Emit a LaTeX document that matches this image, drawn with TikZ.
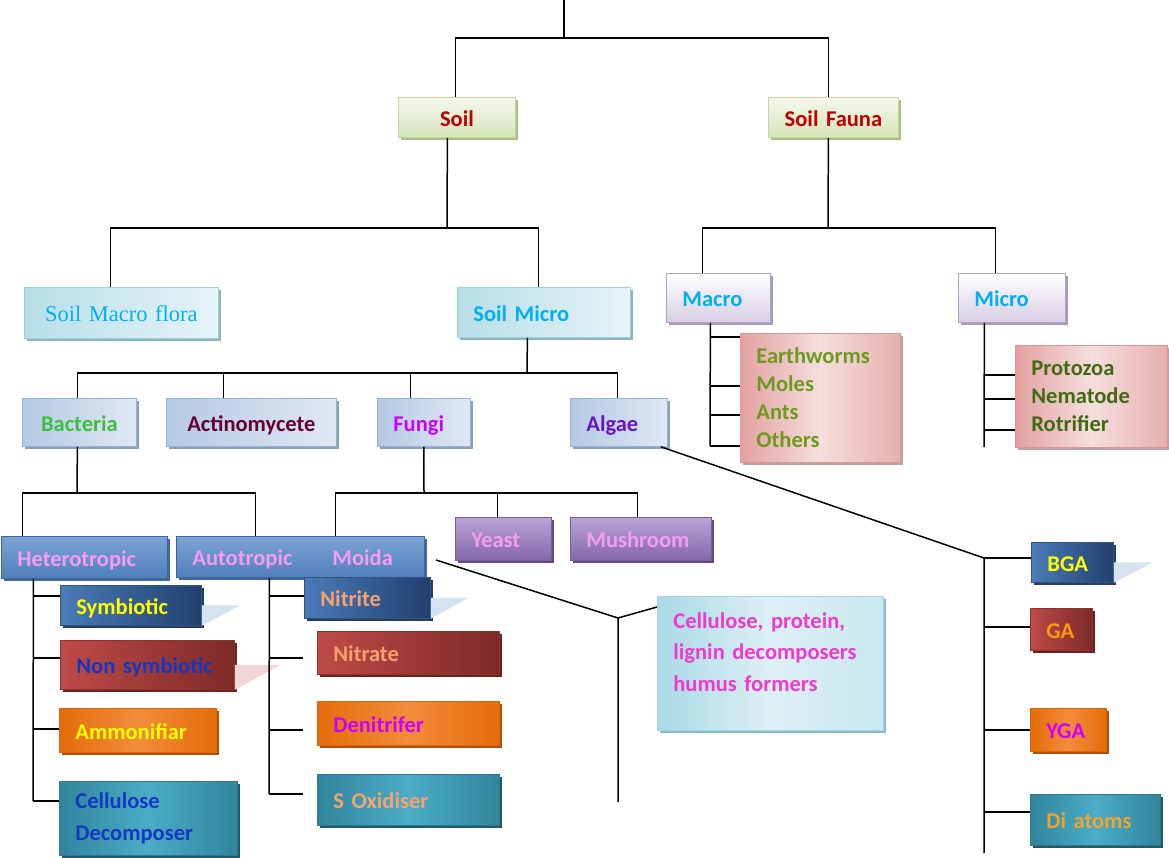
\documentclass[tikz,border=0pt]{standalone}
\usepackage{fontspec}
\setmainfont{Carlito}
\newfontfamily\tnr{Liberation Serif}
\usetikzlibrary{shadows}
\definecolor{soilred}{HTML}{C00000}
\definecolor{sky}{HTML}{00B0F0}
\definecolor{bactg}{HTML}{3DBE3D}
\definecolor{actc}{HTML}{660033}
\definecolor{mag}{HTML}{CC00FF}
\definecolor{algc}{HTML}{6A14C8}
\definecolor{pinkt}{HTML}{F59BF2}
\definecolor{yel}{HTML}{FFFF00}
\definecolor{bluet}{HTML}{1238C4}
\definecolor{salm}{HTML}{F7A26E}
\definecolor{oranget}{HTML}{FF9A0A}
\definecolor{diatc}{HTML}{F2A22C}
\definecolor{celt}{HTML}{EE3ACF}
\definecolor{olive}{HTML}{6B9A1C}
\definecolor{dgreen}{HTML}{3F6B12}
% box colours
\definecolor{gA}{HTML}{F4F8EC}\definecolor{gB}{HTML}{D6E4BC}\definecolor{gC}{HTML}{C3D69B}\definecolor{gD}{HTML}{AABE82}
\definecolor{cA}{HTML}{B7DEE8}\definecolor{cB}{HTML}{E6F4F8}\definecolor{cC}{HTML}{A0D0DE}\definecolor{cD}{HTML}{8CB4C0}
\definecolor{lA}{HTML}{FFFFFF}\definecolor{lB}{HTML}{D7CEE4}\definecolor{lC}{HTML}{B3A2C7}\definecolor{lD}{HTML}{A59BB4}
\definecolor{bA}{HTML}{B4C9E4}\definecolor{bB}{HTML}{E0E8F4}\definecolor{bC}{HTML}{95B3D7}\definecolor{bD}{HTML}{8CA0BE}
\definecolor{dA}{HTML}{7DA3D3}\definecolor{dB}{HTML}{4F7FBA}\definecolor{dC}{HTML}{3C679E}\definecolor{dD}{HTML}{46699B}
\definecolor{nA}{HTML}{4A7CB8}\definecolor{nB}{HTML}{22406E}\definecolor{nC}{HTML}{325587}\definecolor{nD}{HTML}{283C5F}
\definecolor{rA}{HTML}{BE4B48}\definecolor{rB}{HTML}{7D2A28}\definecolor{rC}{HTML}{8C3230}\definecolor{rD}{HTML}{6E2321}
\definecolor{oA}{HTML}{E46C0A}\definecolor{oM}{HTML}{F28C3C}\definecolor{oC}{HTML}{DC640A}\definecolor{oD}{HTML}{B45008}
\definecolor{tA}{HTML}{31859C}\definecolor{tM}{HTML}{4BACC6}\definecolor{tC}{HTML}{2D788C}\definecolor{tD}{HTML}{215968}
\definecolor{pA}{HTML}{B9A3D6}\definecolor{pB}{HTML}{8466A8}\definecolor{pC}{HTML}{7A5E9C}\definecolor{pD}{HTML}{644B82}
\definecolor{kA}{HTML}{E3A1A0}\definecolor{kM}{HTML}{F5DEDE}\definecolor{kB}{HTML}{E6AFAE}\definecolor{kC}{HTML}{D99694}\definecolor{kD}{HTML}{C3A0A0}
\definecolor{eA}{HTML}{A9D9E5}\definecolor{eM}{HTML}{DDF0F5}\definecolor{eB}{HTML}{C8E7EF}\definecolor{eC}{HTML}{A5D5E2}\definecolor{eD}{HTML}{8CB9C6}
\definecolor{rfb}{HTML}{D6E2F0}
\definecolor{rfr}{HTML}{F0D6D6}
\tikzset{
  base/.style={font=\fontsize{22.5}{28}\selectfont\bfseries},
  bx/.style={base, rectangle, anchor=north west, inner xsep=16pt, inner ysep=0pt, align=left, line width=0.8pt, text height=19pt, text depth=1.5pt},
  multi/.style={text height={}, text depth={}},
  wh/.code 2 args={\pgfmathsetmacro\tmpw{#1-32}\edef\tmpx{\noexpand\tikzset{text width=\tmpw pt,minimum height=#2pt}}\tmpx},
  shd/.style={drop shadow={shadow xshift=2.5pt,shadow yshift=-2.5pt,fill=#1,opacity=1}},
  greenbx/.style={top color=gA, bottom color=gB, draw=gC, shd=gD},
  cyanbx/.style={left color=cA, right color=cB, draw=cC, shd=cD},
  lavbx/.style={top color=lA, bottom color=lB, draw=lC, shd=lD},
  lbluebx/.style={left color=bA, right color=bB, draw=bC, shd=bD},
  bandbx/.style={top color=dA, bottom color=dB, draw=dC, shd=dD},
  navybx/.style={left color=nA, right color=nB, draw=nC, shd=nD},
  redbx/.style={left color=rA, right color=rB, draw=rC, shd=rD},
  orangebx/.style={left color=oA, right color=oA, middle color=oM, draw=oC, shd=oD},
  tealbx/.style={left color=tA, right color=tA, middle color=tM, draw=tC, shd=tD},
  purplebx/.style={top color=pA, bottom color=pB, draw=pC, shd=pD},
  pinkbx/.style={left color=kA, right color=kB, middle color=kM, draw=kC, shd=kD},
  celbx/.style={left color=eA, right color=eB, middle color=eM, draw=eC, shd=eD},
  reflb/.style={fill=rfb},
  reflr/.style={fill=rfr},
  conn/.style={line width=1.5pt, draw=black}
}
\begin{document}
\begin{tikzpicture}[x=1pt,y=-1pt]
\useasboundingbox (0,0) rectangle (1169,858);
% boxes
\node[bx,wh={117}{40},greenbx,align=center,text=soilred] (soil) at (398,97) {Soil};
\node[bx,wh={130}{40},greenbx,align=center,text=soilred] (fauna) at (768,97) {Soil Fauna};
\node[bx,wh={194}{51},cyanbx,align=center,text=sky,font=\fontsize{22.5}{28}\selectfont\tnr] (smf) at (24,287) {Soil Macro flora};
\node[bx,wh={173}{50},cyanbx,text=sky] (smicro) at (457,287) {Soil Micro};
\node[bx,wh={104}{49},lavbx,text=sky] (macro) at (666,273) {Macro};
\node[bx,wh={107}{49},lavbx,text=sky] (micro) at (958,273) {Micro};
\node[bx,multi,wh={160}{129},pinkbx,text=olive] (earth) at (740,333) {Earthworms\\Moles\\Ants\\Others};
\node[bx,multi,wh={152}{102},pinkbx,text=dgreen] (proto) at (1015,345) {Protozoa\\Nematode\\Rotrifier};
\node[bx,wh={114}{48},lbluebx,align=center,text=bactg] (bact) at (22,398) {Bacteria};
\node[bx,wh={170}{48},lbluebx,align=center,text=actc] (actin) at (166,398) {Actinomycete};
\node[bx,wh={93}{48},lbluebx,text=mag] (fungi) at (377,398) {Fungi};
\node[bx,wh={97}{48},lbluebx,text=algc] (algae) at (570,398) {Algae};
\node[bx,wh={166}{42},bandbx,text=pinkt] (hetero) at (1,536) {Heterotropic};
\node[bx,wh={248}{41},bandbx,text=pinkt] (auto) at (176,536) {Autotropic\hspace{40pt}Moida};
\node[bx,wh={96}{43},purplebx,text=pinkt] (yeast) at (455,517) {Yeast};
\node[bx,wh={141}{43},purplebx,text=pinkt] (mush) at (570,517) {Mushroom};
\node[bx,wh={141}{40},navybx,text=yel] (symb) at (60,585) {Symbiotic};
\node[bx,wh={174}{49},redbx,text=bluet] (nonsym) at (60,640) {Non symbiotic};
\node[bx,wh={157}{44},orangebx,text=yel] (ammon) at (59,708) {Ammonifiar};
\node[bx,multi,wh={178}{74},tealbx,text=bluet,font=\fontsize{22.5}{32}\selectfont\bfseries] (celd) at (59,781) {Cellulose\\Decomposer};
\node[bx,wh={126}{41},navybx,text=salm] (nitrite) at (304,577) {Nitrite};
\node[bx,wh={182}{43},redbx,text=salm] (nitrate) at (317,631) {Nitrate};
\node[bx,wh={182}{44},orangebx,text=mag] (denit) at (317,701) {Denitrifer};
\node[bx,wh={182}{51},tealbx,text=salm] (sox) at (317,774) {S Oxidiser};
\node[bx,multi,wh={226}{134},celbx,text=celt,font=\fontsize{22.5}{31.5}\selectfont\bfseries] (cel) at (657,596) {Cellulose, protein,\\lignin decomposers\\humus formers\\[-8pt]\mbox{}};
\node[bx,wh={82}{40},navybx,text=yel] (bga) at (1031,542) {BGA};
\node[bx,wh={62}{42},redbx,text=oranget] (ga) at (1030,608) {GA};
\node[bx,wh={76}{43},orangebx,text=mag] (yga) at (1030,708) {YGA};
\node[bx,wh={130}{51},tealbx,text=diatc] (diat) at (1030,794) {Di atoms};
% reflections
\fill[reflb] (symb.east) -- ++(38,0) -- (symb.south east) -- cycle;
\fill[reflr] (nonsym.east) -- ++(46,0) -- (nonsym.south east) -- cycle;
\fill[reflb] (nitrite.east) -- ++(37,0) -- (nitrite.south east) -- cycle;
\fill[reflb] (bga.east) -- ++(39,0) -- (bga.south east) -- cycle;
% connectors
\begin{scope}[conn]
\coordinate (root) at (564,0);
\coordinate (j0) at (564,38);
\draw (root) -- (j0);
\draw ([xshift=-1.5pt]soil.north) |- (j0) -| ([xshift=-5pt]fauna.north);
\coordinate (j1) at (447,228);
\draw ([xshift=-9.5pt]soil.south) -- (j1);
\draw ([xshift=-11pt]smf.north) |- (j1) -| ([xshift=-5.5pt]smicro.north);
\coordinate (j2) at (828,228);
\draw ([xshift=-5pt]fauna.south) -- (j2);
\draw ([xshift=-16pt]macro.north) |- (j2) -| ([xshift=-16.5pt]micro.north);
% macro branch
\coordinate (mt1) at (710,337);
\coordinate (mt2) at (710,386);
\coordinate (mt3) at (710,415);
\coordinate (mt4) at (710,446);
\draw ([xshift=-8pt]macro.south) -- (mt4);
\foreach \i in {1,...,4} \draw (mt\i) -- (earth.west |- mt\i);
% micro branch
\coordinate (ut1) at (984,375);
\coordinate (ut2) at (984,399);
\coordinate (ut3) at (984,430);
\coordinate (ub) at (984,447);
\draw ([xshift=-27.5pt]micro.south) -- (ub);
\foreach \i in {1,2,3} \draw (ut\i) -- (proto.west |- ut\i);
% soil micro
\coordinate (j3) at (527,373);
\draw ([xshift=-16.5pt]smicro.south) -- (j3);
\draw ([xshift=-2pt]bact.north) |- (j3) -| ([xshift=-1.5pt]algae.north);
\draw ([xshift=-28pt]actin.north) |- (j3);
\draw ([xshift=-13.5pt]fungi.north) |- (j3);
% bacteria
\coordinate (j4) at (77,493);
\draw ([xshift=-2pt]bact.south) -- (j4);
\draw ([xshift=-62pt]hetero.north) |- (j4) -| ([xshift=-45pt]auto.north);
% fungi
\coordinate (j5) at (424,493);
\draw (fungi.south) -- (j5);
\draw ([xshift=35pt]auto.north) |- (j5) -| ([xshift=-6pt]yeast.north);
\draw (j5) -| ([xshift=-3.5pt]mush.north);
% heterotropic branch
\coordinate (ht1) at (33,596);
\coordinate (ht2) at (33,658);
\coordinate (ht3) at (33,729);
\coordinate (ht4) at (33,801);
\draw ([xshift=-51pt]hetero.south) -- (ht4);
\draw (ht1) -- (symb.west |- ht1);
\draw (ht2) -- (nonsym.west |- ht2);
\draw (ht3) -- (ammon.west |- ht3);
\draw (ht4) -- (celd.west |- ht4);
% autotropic branch
\coordinate (at1) at (269,596);
\coordinate (at2) at (269,658);
\coordinate (at3) at (269,730);
\coordinate (at4) at (269,794);
\coordinate (ae2) at (303,658);
\coordinate (ae3) at (303,730);
\coordinate (ae4) at (303,794);
\draw ([xshift=-31pt]auto.south) -- (at4);
\draw (at1) -- (nitrite.west |- at1);
\draw (at2) -- (ae2);
\draw (at3) -- (ae3);
\draw (at4) -- (ae4);
% moida
\coordinate (ms) at (436,560);
\coordinate (mj) at (618,618);
\coordinate (mb) at (618,802);
\draw (ms) -- (mj) -- (mb);
\draw (mj) -- ([yshift=-11pt]cel.north west);
% algae
\coordinate (aj) at (984,558);
\coordinate (ab) at (984,853);
\coordinate (an2) at (984,627);
\coordinate (an3) at (984,730);
\coordinate (an4) at (984,812);
\draw ([xshift=-7pt]algae.south east) -- (aj) -- (ab);
\draw (aj) -- (bga.west |- aj);
\draw (an2) -- (ga.west |- an2);
\draw (an3) -- (yga.west |- an3);
\draw (an4) -- (diat.west |- an4);
\end{scope}
\end{tikzpicture}
\end{document}
